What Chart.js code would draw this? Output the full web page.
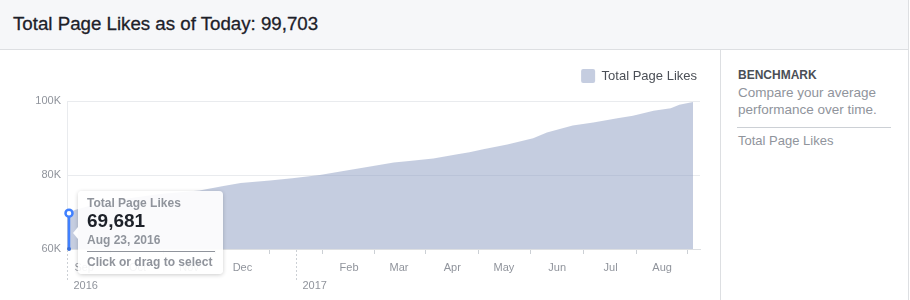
<!DOCTYPE html>
<html>
<head>
<meta charset="utf-8">
<title>Total Page Likes</title>
<script src="https://cdn.jsdelivr.net/npm/chart.js@4.4.1/dist/chart.umd.min.js"></script>
<style>
  body { margin: 0; background: #fff; font-family: Helvetica, Arial, 'Liberation Sans', sans-serif; }
  #frame { position: relative; width: 908px; height: 300px; border-right: 1px solid #dddfe2; overflow: hidden; }
  #head { position: absolute; left: 0; top: 0; width: 908px; height: 49px; background: #f6f7f9; border-bottom: 1px solid #dddfe2; }
  #head span { position: absolute; left: 13px; top: 12px; line-height: 24px; font-size: 18.7px; color: #1d2129; -webkit-text-stroke: 0.3px #1d2129; white-space: nowrap; }
  #plot { position: absolute; left: 0; top: 50px; width: 720px; height: 250px; border-right: 1px solid #dddfe2; }
  #plot canvas { position: absolute; left: 0; top: 0; }
  .side { position: absolute; left: 738px; white-space: nowrap; }
  #bench { top: 67px; line-height: 16px; font-size: 12px; font-weight: bold; color: #4b4f56; }
  #blurb { top: 84px; line-height: 17.4px; font-size: 13.5px; color: #90949c; }
  #rule { position: absolute; left: 737px; top: 127px; width: 154px; height: 1px; background: #ccd0d5; }
  #metric { top: 133px; line-height: 16px; font-size: 13px; color: #90949c; }

  /* fixed hover card on the first day */
  #tip { position: absolute; width: 145px; height: 83px; background: rgba(255,255,255,0.9); border-radius: 4px; box-shadow: 0 1px 4px rgba(0,0,0,0.2); }
  #tip:before { content: ''; position: absolute; left: -5px; top: 36px; border-style: solid; border-width: 6px 5px 6px 0; border-color: transparent rgba(255,255,255,0.95) transparent transparent; }
  #tip div { position: absolute; left: 9px; white-space: nowrap; }
  #tipLabel { top: 5px; line-height: 14px; font-size: 12px; font-weight: bold; color: #90949c; }
  #tipValue { top: 19px; line-height: 22px; font-size: 19px; font-weight: bold; color: #1d2129; }
  #tipDate { top: 42px; line-height: 14px; font-size: 12px; font-weight: bold; color: #90949c; }
  #tipRule { top: 60px; width: 128px; height: 1px; background: #90949c; }
  #tipHint { top: 64px; line-height: 14px; font-size: 12px; font-weight: bold; color: #90949c; }
</style>
</head>
<body>
<div id="frame">
  <div id="head"><span id="headText"></span></div>
  <div id="plot">
    <canvas id="likes" width="720" height="250"></canvas>
    <div id="tip">
      <div id="tipLabel">Total Page Likes</div>
      <div id="tipValue"></div>
      <div id="tipDate"></div>
      <div id="tipRule"></div>
      <div id="tipHint">Click or drag to select</div>
    </div>
  </div>
  <div class="side" id="bench">BENCHMARK</div>
  <div class="side" id="blurb">Compare your average<br>performance over time.</div>
  <div id="rule"></div>
  <div class="side" id="metric">Total Page Likes</div>
</div>

<script>
// days counted from Aug 23, 2016
const days = [0, 5, 19, 37, 54, 77, 91, 101, 118, 131, 147, 159, 178, 190, 199, 213,
  227, 234, 242, 256, 271, 279, 294, 306, 320, 329, 341, 351, 356, 364];
const likes = [69681, 70600, 72450, 73800, 74880, 75830, 77050, 77860, 78540, 79130, 80020, 80920, 82460, 83350, 83810, 84430,
  85630, 86170, 86980, 88220, 89960, 91470, 93370, 94180, 95370, 95990, 97340, 98070, 98970, 99703];

const monthDays = [10, 41, 71, 102, 133, 164, 193, 224, 254, 285, 316, 346];
const monthNames = ['Sep', 'Oct', 'Nov', 'Dec', '', 'Feb', 'Mar', 'Apr', 'May', 'Jun', 'Jul', 'Aug'];
const yearDays = [0, 133];
const yearNames = ['2016', '2017'];
const firstDate = 'Aug 23, 2016';

const grey = '#90949c';
const fmt = n => n.toLocaleString('en-US');

document.getElementById('headText').textContent = 'Total Page Likes as of Today: ' + fmt(likes[likes.length - 1]);
document.getElementById('tipValue').textContent = fmt(likes[0]);
document.getElementById('tipDate').textContent = firstDate;

Chart.defaults.font.family = "Helvetica, Arial, 'Liberation Sans', sans-serif";

// blue pin on the first point + year dividers under the axis
const extras = {
  id: 'extras',
  beforeInit(chart) {
    const fit = chart.legend.fit;
    chart.legend.fit = function () {
      fit.call(this);
      this.height += 8;
    };
  },
  afterDatasetsDraw(chart) {
    const { ctx, chartArea, scales } = chart;
    const x = scales.x.getPixelForValue(days[0]) + 2;
    const y = scales.y.getPixelForValue(likes[0]);
    ctx.save();
    ctx.strokeStyle = '#4080ff';
    ctx.lineWidth = 2.5;
    ctx.beginPath();
    ctx.moveTo(x, y);
    ctx.lineTo(x, chartArea.bottom);
    ctx.stroke();
    ctx.fillStyle = '#3a6fd8';
    ctx.beginPath();
    ctx.arc(x, chartArea.bottom, 2, 0, Math.PI * 2);
    ctx.fill();
    ctx.fillStyle = '#fff';
    ctx.beginPath();
    ctx.arc(x, y, 3.5, 0, Math.PI * 2);
    ctx.fill();
    ctx.stroke();
    ctx.restore();
  },
  afterDraw(chart) {
    const { ctx, chartArea, scales } = chart;
    ctx.save();
    ctx.strokeStyle = '#ccd0d5';
    ctx.lineWidth = 1;
    ctx.setLineDash([2, 2]);
    ctx.fillStyle = grey;
    ctx.font = "11px Helvetica, Arial, 'Liberation Sans', sans-serif";
    ctx.textBaseline = 'middle';
    yearDays.forEach((d, i) => {
      const x = Math.round(scales.x.getPixelForValue(d)) + 0.5;
      ctx.beginPath();
      ctx.moveTo(x, chartArea.bottom + 1);
      ctx.lineTo(x, chartArea.bottom + 31);
      ctx.stroke();
      ctx.fillText(yearNames[i], x + 6, chartArea.bottom + 37);
    });
    ctx.restore();
  }
};

const chart = new Chart(document.getElementById('likes'), {
  type: 'line',
  data: {
    datasets: [{
      label: 'Total Page Likes',
      data: days.map((d, i) => ({ x: d, y: likes[i] })),
      fill: 'origin',
      backgroundColor: 'rgba(139, 155, 193, 0.5)',
      borderWidth: 0,
      pointRadius: 0,
      tension: 0
    }]
  },
  options: {
    responsive: false,
    animation: false,
    events: [],
    layout: { padding: { top: 16, right: 20, left: 0, bottom: 0 } },
    plugins: {
      tooltip: { enabled: false },
      legend: {
        position: 'top',
        align: 'end',
        labels: {
          boxWidth: 14,
          boxHeight: 14,
          padding: 3,
          useBorderRadius: true,
          borderRadius: 2,
          color: '#4b4f56',
          font: { size: 13 }
        }
      }
    },
    scales: {
      x: {
        type: 'linear',
        min: 0,
        max: 368,
        afterBuildTicks: s => { s.ticks = monthDays.map(v => ({ value: v })); },
        afterFit: s => { s.height = 51; },
        ticks: {
          autoSkip: false,
          maxRotation: 0,
          padding: 7,
          color: grey,
          font: { size: 11 },
          callback: (v, i) => monthNames[i]
        },
        grid: { drawOnChartArea: false, offset: true, tickLength: 5, color: '#ccd0d5' },
        border: { color: '#dddfe2' }
      },
      y: {
        min: 60000,
        max: 100000,
        afterFit: s => { s.width = 67; },
        ticks: {
          stepSize: 20000,
          padding: 6,
          color: grey,
          font: { size: 11 },
          callback: v => (v / 1000) + 'K'
        },
        grid: { color: '#e9ebee', drawTicks: false },
        border: { color: '#e9ebee' }
      }
    }
  },
  plugins: [extras]
});

// hang the card off the first point
const tip = document.getElementById('tip');
tip.style.left = (chart.scales.x.getPixelForValue(days[0]) + 11) + 'px';
tip.style.top = (chart.scales.y.getPixelForValue(likes[0]) - 22) + 'px';
</script>
</body>
</html>
